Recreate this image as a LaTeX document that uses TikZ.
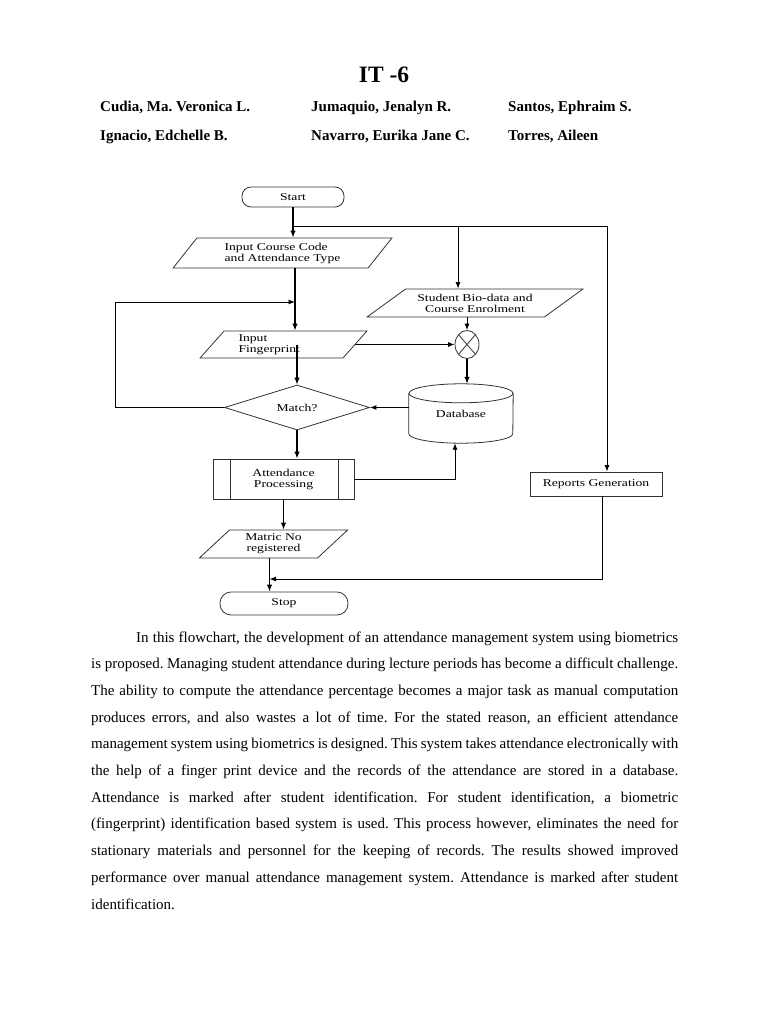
\documentclass[tikz,border=0pt]{standalone}
\usepackage{fontspec}
\setmainfont{Liberation Serif}
\newfontfamily\chartfont[FakeStretch=1.3]{Liberation Serif}
\usepackage{tikz}
\usetikzlibrary{shapes,arrows,arrows.meta}
\frenchspacing
\newcommand{\chartsize}{\chartfont\fontsize{10.5}{11}\selectfont}
\tikzstyle{author} = [anchor=base west, inner sep=0pt,
    font=\fontsize{15}{18}\selectfont\bfseries]
\tikzstyle{terminal} = [rectangle, draw=black!80, line width=0.8pt, rounded corners=9pt, font=\chartsize]
\tikzstyle{io} = [trapezium, draw=black!80, line width=0.8pt, trapezium left angle=50,
    trapezium right angle=130, trapezium stretches=true, inner sep=1pt,
    font=\chartsize, align=center]
\tikzstyle{decision} = [diamond, draw=black!80, line width=0.8pt, aspect=3.2, inner sep=1pt, font=\chartsize]
\tikzstyle{block} = [rectangle, draw=black!80, line width=0.8pt, font=\chartsize, align=center]
\tikzstyle{subproc} = [block, path picture={
    \draw[black!80, line width=0.8pt] ([xshift=17pt]path picture bounding box.north west) -- ([xshift=17pt]path picture bounding box.south west)
    ([xshift=-16pt]path picture bounding box.north east) -- ([xshift=-16pt]path picture bounding box.south east);}]
\tikzstyle{sumjunc} = [ellipse, draw=black!80, line width=0.8pt, inner sep=0pt, minimum width=24pt,
    minimum height=28pt, path picture={
    \draw[black!80, line width=0.8pt] (path picture bounding box.north west) -- (path picture bounding box.south east)
    (path picture bounding box.north east) -- (path picture bounding box.south west);}]
\tikzstyle{store} = [rectangle, font=\chartsize, minimum width=104pt, minimum height=59pt]
\tikzstyle{line} = [draw, -{Latex[length=7pt,width=5.5pt]}, line width=1.3pt]
\tikzstyle{thinline} = [draw, -{Latex[length=6.5pt,width=5pt]}, line width=0.9pt]

\begin{document}
\begin{tikzpicture}[x=1pt, y=-1pt, node distance=60pt]
    \useasboundingbox (0,0) rectangle (768,1024);
    % Heading
    \node [anchor=base, inner sep=0pt, font=\fontsize{23.5}{28}\selectfont\bfseries] (title) at (384,83) {IT -6};
    \node [author] (cudia) at (100,112) {Cudia, Ma. Veronica L.};
    \node [author] (jumaquio) at (311,112) {Jumaquio, Jenalyn R.};
    \node [author] (santos) at (508,112) {Santos, Ephraim S.};
    \node [author] (ignacio) at (100,141) {Ignacio, Edchelle B.};
    \node [author] (navarro) at (311,141) {Navarro, Eurika Jane C.};
    \node [author] (torres) at (508,141) {Torres, Aileen};
    % Place nodes
    \node [terminal, minimum width=102pt, minimum height=20pt] (start) at (293,197) {Start};
    \node [io, below of=start, node distance=56pt, xshift=-10.5pt, trapezium left angle=54,
        trapezium right angle=126, minimum width=219pt, minimum height=30pt, align=left] (course)
        {Input Course Code\\and Attendance Type};
    \node [io, below of=course, node distance=91.5pt, xshift=1pt, minimum width=167pt,
        minimum height=27pt, text width=90pt, align=left] (fp) {Input\\Fingerprint};
    \node [decision, below of=fp, node distance=63pt, xshift=13.5pt, minimum width=145pt,
        minimum height=45pt] (match) {Match?};
    \node [subproc, below of=match, node distance=71.5pt, xshift=-13.5pt, minimum width=141pt,
        minimum height=40pt] (att) {Attendance\\Processing};
    \node [io, below of=att, node distance=65pt, xshift=-10pt, trapezium left angle=48,
        trapezium right angle=132, minimum width=149pt, minimum height=28pt] (matric)
        {Matric No\\registered};
    \node [terminal, below of=matric, node distance=59.5pt, xshift=10.5pt, minimum width=128pt,
        minimum height=23pt, rounded corners=11pt] (stop) {Stop};
    \node [io, right of=course, node distance=192.5pt, yshift=-50pt, trapezium left angle=32,
        trapezium right angle=148, minimum width=216pt, minimum height=28pt] (biodata)
        {Student Bio-data and\\Course Enrolment};
    \node [sumjunc, right of=fp, node distance=183.5pt] (junc) {};
    \node [store, below of=junc, node distance=69pt, xshift=-6pt] (db) {Database};
    \node [block, right of=att, node distance=312.5pt, yshift=-5pt, minimum width=132pt,
        minimum height=24pt] (reports) {Reports Generation};
    % Database drum
    \draw [black!80, line width=0.8pt] ([yshift=-9.5pt]db.north) ellipse [x radius=52pt, y radius=9.5pt];
    \draw [black!80, line width=0.8pt] ([yshift=-9.5pt]db.north west) -- ([yshift=9.5pt]db.south west)
        arc [start angle=180, end angle=360, x radius=52pt, y radius=9.5pt]
        -- ([yshift=-9.5pt]db.north east);
    \coordinate (split) at (293,226);
    \coordinate (join) at (295,302);
    \coordinate (merge) at (269.5,579);
    % Draw edges
    \path [line] (start) -- (start |- course.north);
    \path [thinline] (split) -| ([xshift=11pt]reports.north);
    \path [thinline] ([xshift=-17pt]biodata.north |- split) -- ([xshift=-17pt]biodata.north);
    \path [line] (course.south -| join) -- (fp.north -| join);
    \path [thinline] (match.west) -- ++(-108.5pt,0) |- (join);
    \path [line] (fp.center -| match.north) -- (match.north);
    \path [thinline] (fp.east) -- (junc.west);
    \path [thinline] (biodata.south -| junc) -- (junc.north);
    \path [line] (junc.south) -- (junc.south |- db.north);
    \path [thinline] (db.west |- match.east) -- (match.east);
    \path [line] (match.south) -- (match.south |- att.north);
    \path [thinline] (att.east) -| ([xshift=-6pt]db.south);
    \path [line] (att.south) -- (att.south |- matric.north);
    \path [line] ([xshift=-4pt]matric.south) -- ([xshift=-4pt]matric.south |- stop.north);
    \path [thinline] ([xshift=6pt]reports.south) |- (merge);
    % Text below the chart
    \node [anchor=base west, inner sep=0pt, text width=587pt, align=justify,
        font=\fontsize{15}{26.7}\selectfont] (body) at (91,642)
        {\tolerance=10000\hyphenpenalty=10000\hspace*{45pt}In this flowchart, the development of an attendance management system using biometrics\linebreak
        is proposed. Managing student attendance during lecture periods has become a difficult challenge.\linebreak
        The ability to compute the attendance percentage becomes a major task as manual computation\linebreak
        produces errors, and also wastes a lot of time. For the stated reason, an efficient attendance\linebreak
        management system using biometrics is designed. This system takes attendance electronically with\linebreak
        the help of a finger print device and the records of the attendance are stored in a database.\linebreak
        Attendance is marked after student identification. For student identification, a biometric\linebreak
        (fingerprint) identification based system is used. This process however, eliminates the need for\linebreak
        stationary materials and personnel for the keeping of records. The results showed improved\linebreak
        performance over manual attendance management system. Attendance is marked after student\linebreak
        identification.};
\end{tikzpicture}
\end{document}
